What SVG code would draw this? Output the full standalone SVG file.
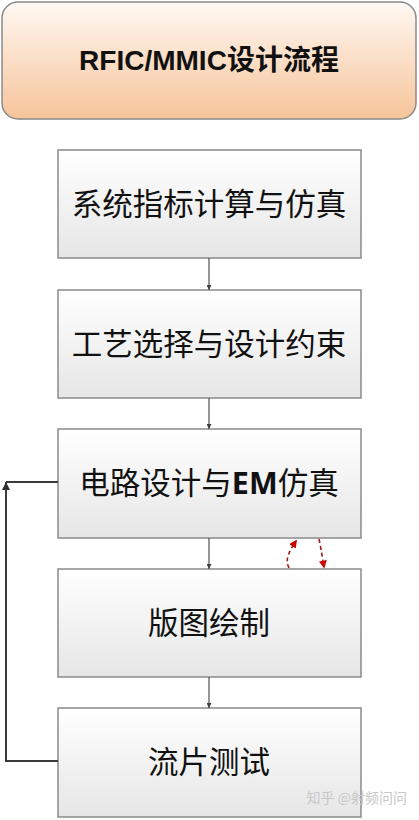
<svg xmlns="http://www.w3.org/2000/svg" width="419" height="820" viewBox="0 0 419 820">
<defs>
<linearGradient id="tg" x1="0" y1="0" x2="0" y2="1">
<stop offset="0" stop-color="#fff8f2"/>
<stop offset="1" stop-color="#f6c49a"/>
</linearGradient>
<linearGradient id="bg" x1="0" y1="0" x2="0" y2="1">
<stop offset="0" stop-color="#ffffff"/>
<stop offset="1" stop-color="#e6e6e6"/>
</linearGradient>
<marker id="ah" viewBox="0 0 10 10" refX="10" refY="5" markerWidth="5" markerHeight="5" orient="auto" markerUnits="userSpaceOnUse">
<path d="M0,0 L10,5 L0,10 z" fill="#404040"/>
</marker>
<marker id="ahb" viewBox="0 0 10 10" refX="10" refY="5" markerWidth="4" markerHeight="4" orient="auto">
<path d="M0,0 L10,5 L0,10 z" fill="#303030"/>
</marker>
<marker id="ahr" viewBox="0 0 10 10" refX="8" refY="5" markerWidth="8" markerHeight="8" orient="auto" markerUnits="userSpaceOnUse">
<path d="M0,0 L10,5 L0,10 z" fill="#cc0000"/>
</marker>
</defs>
<style>
.box{fill:url(#bg);stroke:#8a8a8a;stroke-width:1.5}
.t{font-family:"Noto Sans CJK SC","Noto Sans",sans-serif;font-size:30.5px;fill:#111;text-anchor:middle}
.c{stroke:#505050;stroke-width:1.2;fill:none}
</style>
<rect width="419" height="820" fill="#ffffff"/>
<g id="title">
<rect x="2" y="2" width="414" height="117" rx="16" fill="url(#tg)" stroke="#8a8a8a" stroke-width="1.5"/>
<text x="209" y="70" text-anchor="middle" font-family="'Liberation Sans','Noto Sans CJK SC',sans-serif" font-size="28" font-weight="bold" fill="#111">RFIC/MMIC<tspan font-family="'Noto Sans CJK SC',sans-serif">设计流程</tspan></text>
</g>
<g id="n1">
<rect class="box" x="58" y="150" width="303" height="108"/>
<text class="t" x="209" y="215">系统指标计算与仿真</text>
</g>
<g id="n2">
<rect class="box" x="58" y="290" width="303" height="108"/>
<text class="t" x="209" y="355">工艺选择与设计约束</text>
</g>
<g id="n3">
<rect class="box" x="58" y="429" width="303" height="109"/>
<text class="t" x="209" y="494">电路设计与<tspan font-weight="bold" font-family="'Open Sans','Noto Sans',sans-serif">EM</tspan>仿真</text>
</g>
<g id="n4">
<rect class="box" x="58" y="569" width="303" height="108"/>
<text class="t" x="209" y="634">版图绘制</text>
</g>
<g id="n5">
<rect class="box" x="58" y="708" width="303" height="109"/>
<text class="t" x="209" y="773">流片测试</text>
</g>
<g id="connectors">
<line class="c" x1="209" y1="258" x2="209" y2="290" marker-end="url(#ah)"/>
<line class="c" x1="209" y1="398" x2="209" y2="429" marker-end="url(#ah)"/>
<line class="c" x1="209" y1="538" x2="209" y2="569" marker-end="url(#ah)"/>
<line class="c" x1="209" y1="677" x2="209" y2="708" marker-end="url(#ah)"/>
<polyline points="58,761 6,761 6,482" fill="none" stroke="#3a3a3a" stroke-width="2" marker-end="url(#ahb)"/>
<line x1="6" y1="482" x2="58" y2="482" stroke="#3a3a3a" stroke-width="2"/>
<path d="M289,568 C285,560 288,553 296,541" fill="none" stroke="#a01818" stroke-width="1.6" stroke-dasharray="4,3" marker-end="url(#ahr)"/>
<path d="M319,539 C321,548 322,556 324,567" fill="none" stroke="#a01818" stroke-width="1.6" stroke-dasharray="4,3" marker-end="url(#ahr)"/>
</g>
<text x="407" y="803" text-anchor="end" font-family="'Noto Sans CJK SC',sans-serif" font-size="14" fill="#c8c8c8">知乎 @射频问问</text>
</svg>
